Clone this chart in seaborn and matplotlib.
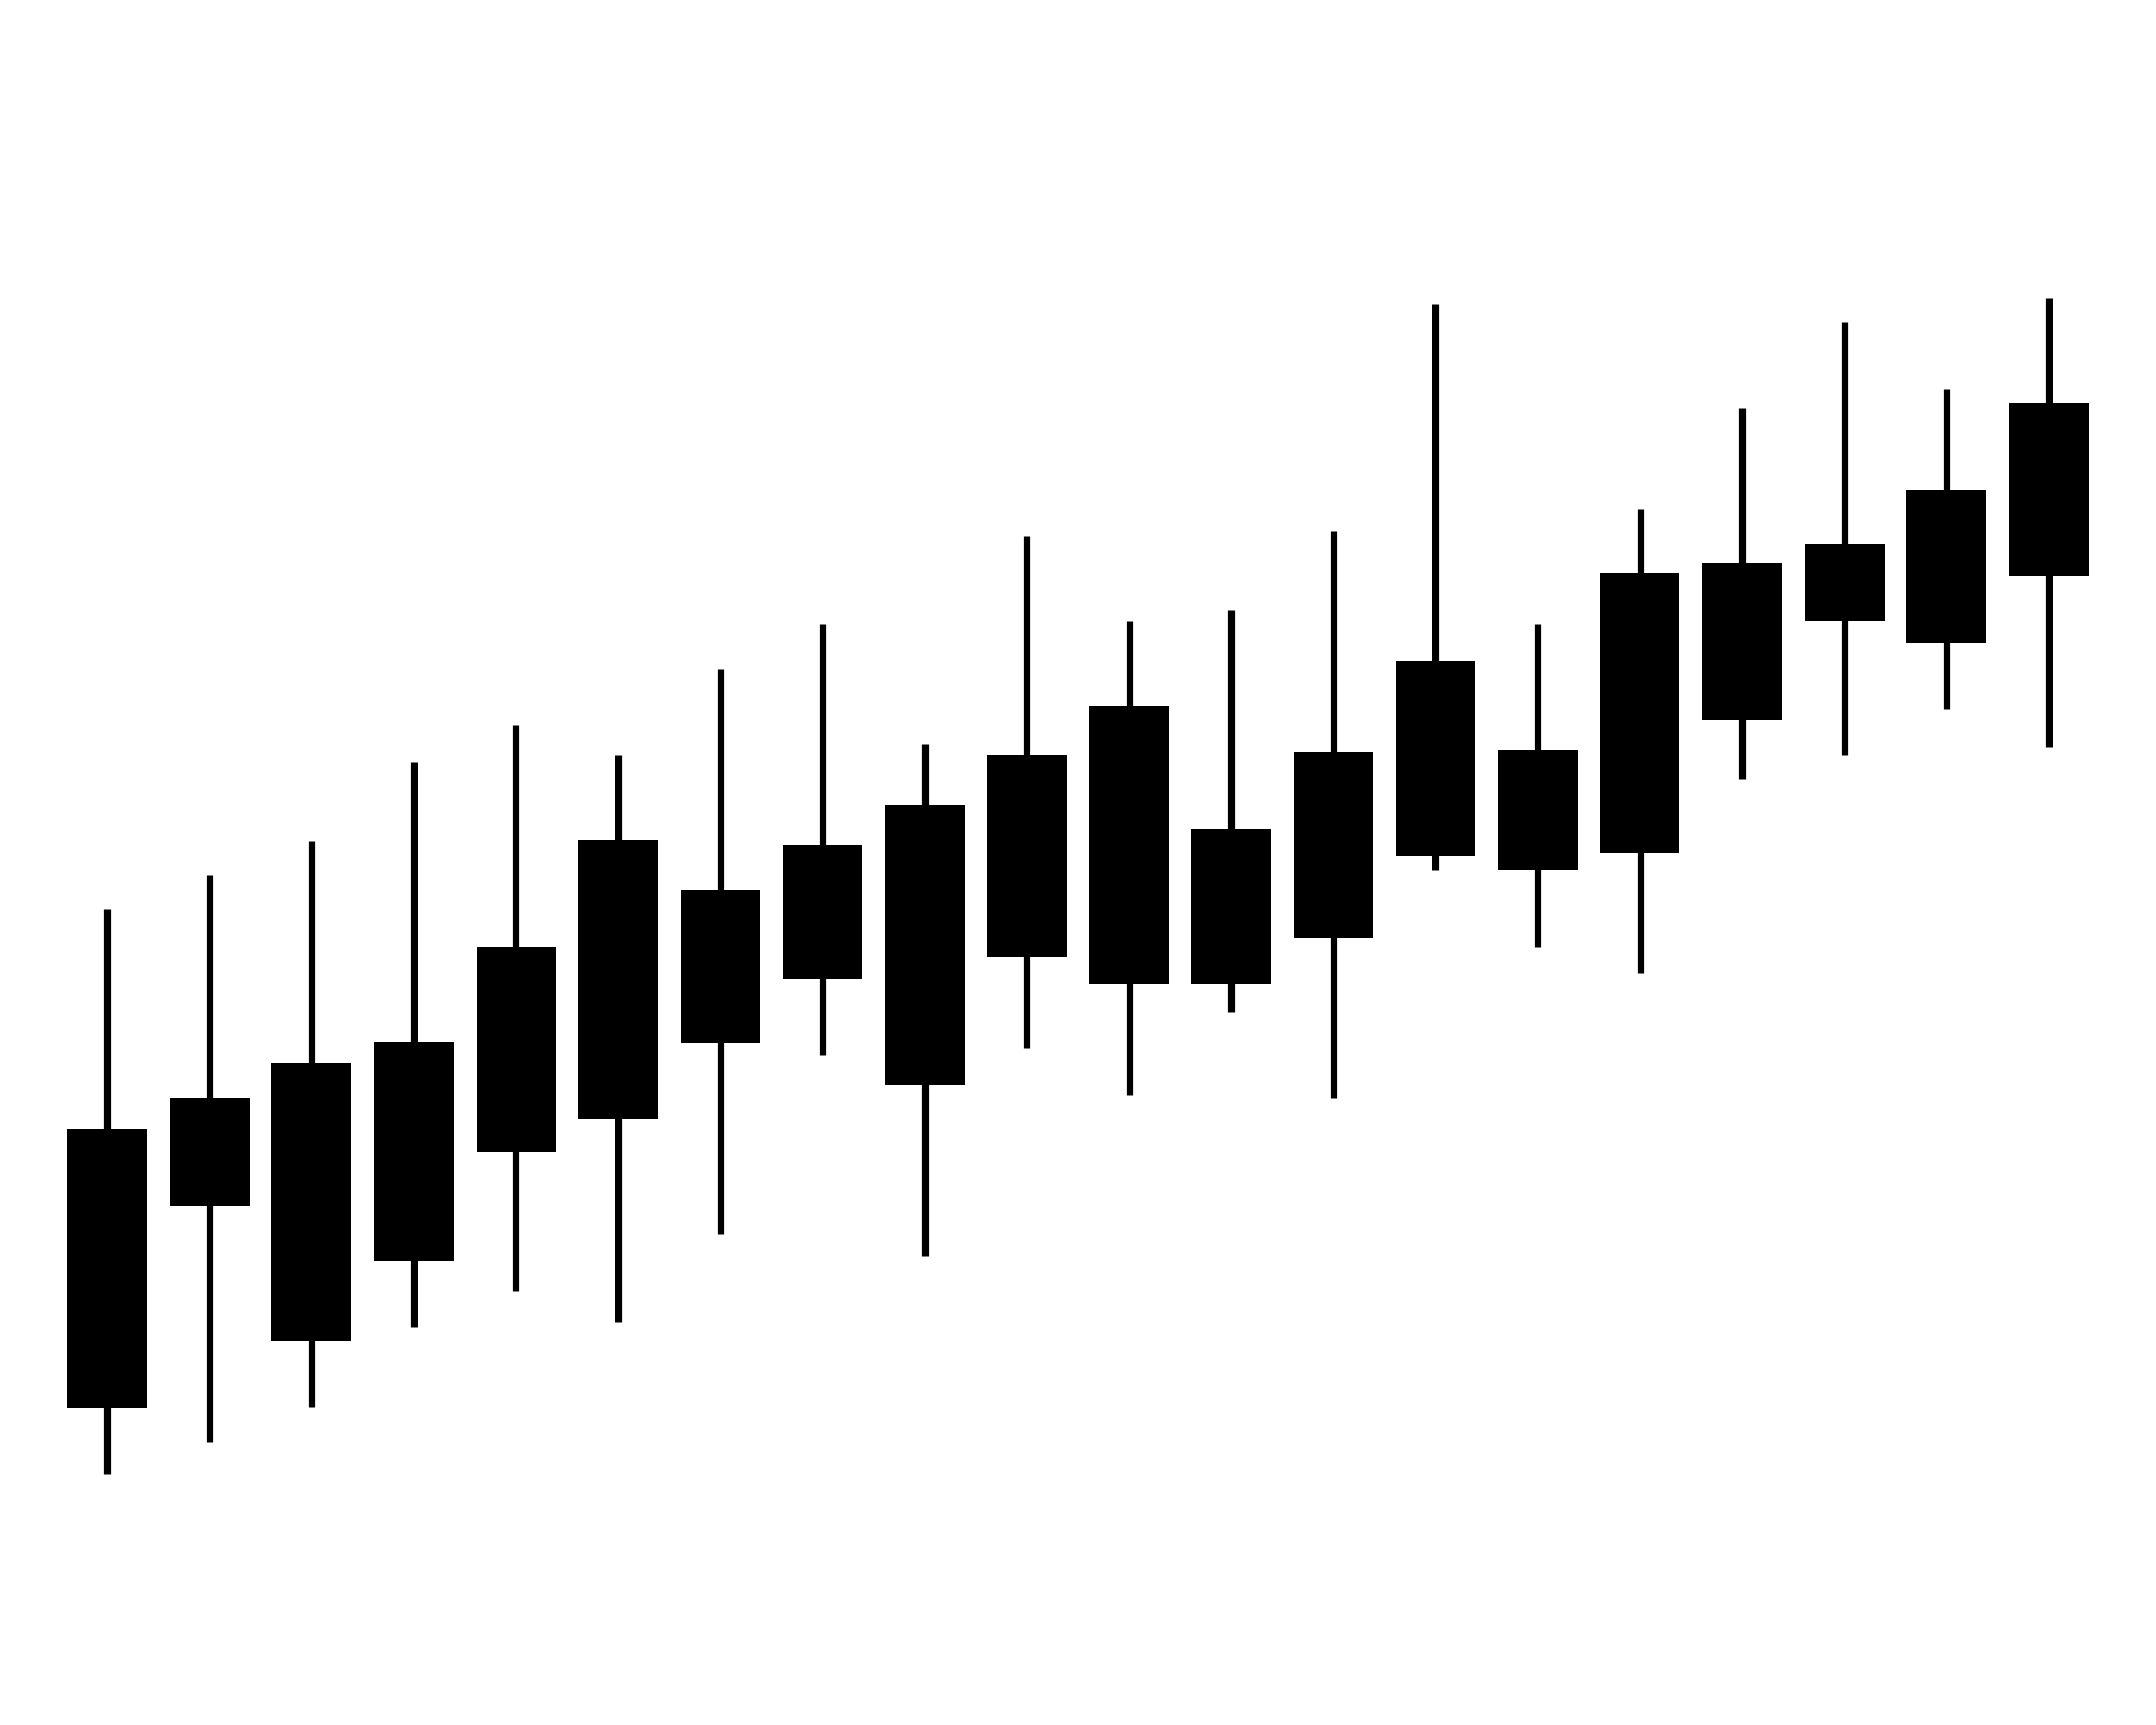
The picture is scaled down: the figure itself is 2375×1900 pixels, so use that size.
import numpy as np
import matplotlib
matplotlib.use("Agg")
import matplotlib.pyplot as plt
import seaborn as sns

# candle values (arbitrary price units)
days = list(range(20))
high = [59.0, 61.4, 63.9, 69.7, 72.3, 70.1, 76.4, 79.7, 70.9, 86.1,
        79.9, 80.7, 86.4, 102.9, 79.7, 88.0, 95.4, 101.6, 96.7, 103.4]
body_top = [43.0, 45.3, 47.8, 49.3, 56.2, 64.0, 60.4, 63.6, 66.5, 70.1,
            73.7, 64.8, 70.4, 77.0, 70.5, 83.4, 84.1, 85.5, 89.4, 95.7]
body_bottom = [22.7, 37.4, 27.6, 33.4, 41.3, 43.7, 49.2, 53.9, 46.2, 55.5,
               53.5, 53.5, 56.9, 62.8, 61.8, 63.1, 72.7, 79.9, 78.3, 83.2]
low = [17.9, 20.3, 22.8, 28.6, 31.2, 29.0, 35.4, 48.4, 33.8, 48.9,
       45.5, 51.5, 45.3, 61.8, 56.2, 54.3, 68.4, 70.1, 73.5, 70.7]

sns.set_style("white")

fig = plt.figure(figsize=(23.75, 19), dpi=100)
ax = fig.add_axes([0, 0, 1, 1])

x = np.array(days)
# wicks
ax.vlines(x, low, high, color="black", linewidth=5.2, zorder=1)
# bodies
heights = np.array(body_top) - np.array(body_bottom)
ax.bar(x, heights, bottom=body_bottom, width=0.78, color="black",
       edgecolor="none", zorder=2)

ax.set_xlim(-1.05, 20.05)
ax.set_ylim(-0.3, 125)
ax.axis("off")

fig.savefig("out.png", dpi=100, facecolor="white")
